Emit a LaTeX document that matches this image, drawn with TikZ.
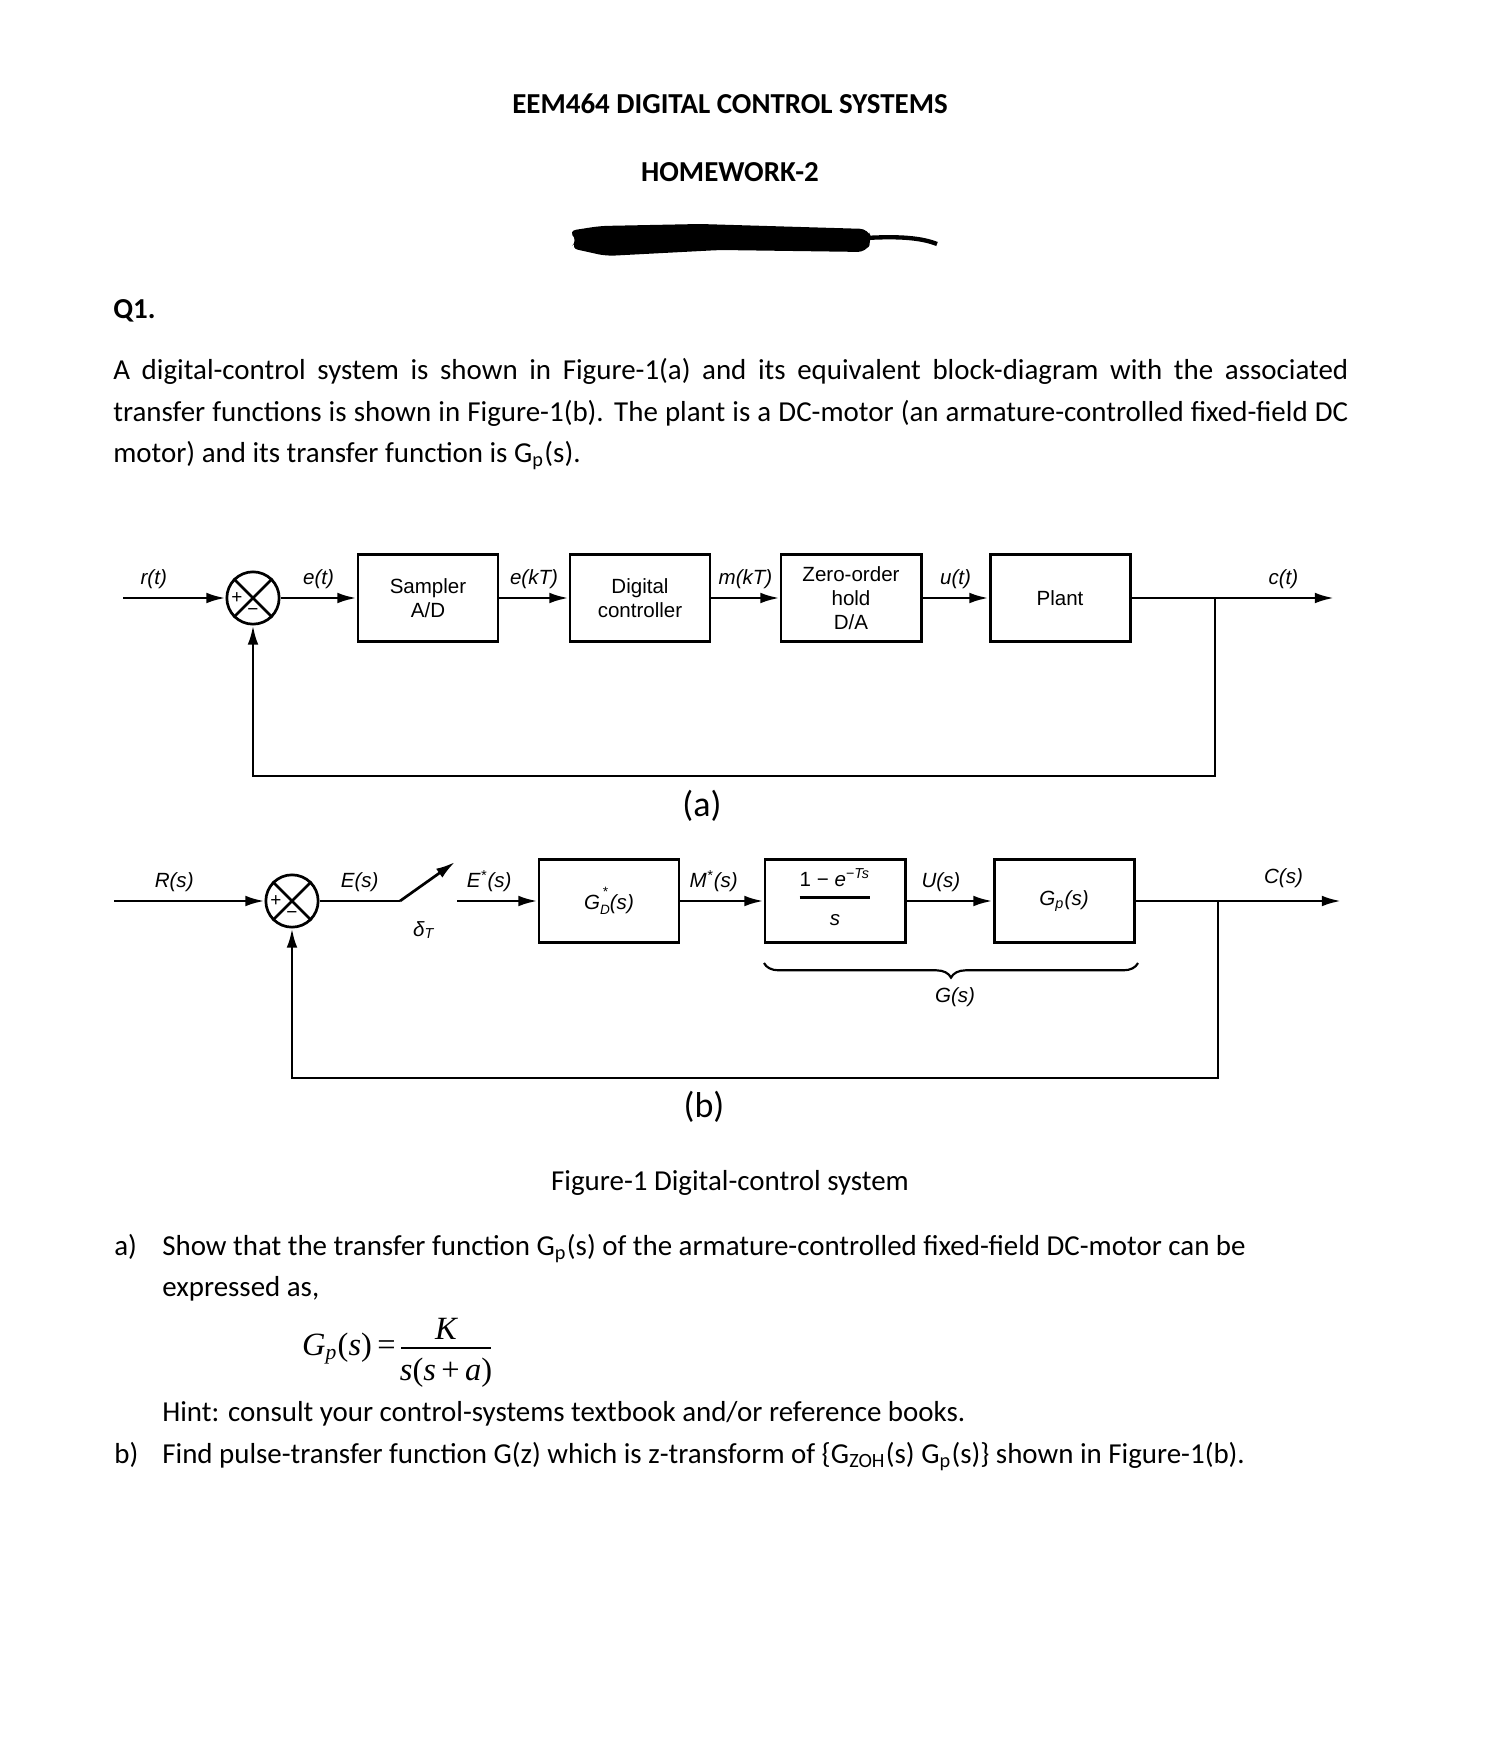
\documentclass[tikz,border=0pt]{standalone}
\usepackage{fontspec}
\setmainfont{Carlito}
\newfontfamily\diagfont{Liberation Sans}
\newfontfamily\eqfont{Liberation Serif}
\setlength{\arrayrulewidth}{0.9pt}
\usetikzlibrary{arrows.meta, calc, decorations.pathreplacing}

\begin{document}
\begin{tikzpicture}[x=0.013cm, y=-0.013cm, >={Latex[length=2.5mm, width=1.4mm]}, line width=1pt,
  every node/.style={inner sep=0pt},
  body/.style={font=\fontsize{10.7}{13}\selectfont, anchor=base west},
  head/.style={font=\fontsize{10.7}{13}\selectfont\bfseries, anchor=base},
  block/.style={draw, line width=1.1pt, align=center, minimum width=1.82cm, minimum height=1.12cm, font=\diagfont\fontsize{7.6}{8.8}\selectfont},
  sig/.style={font=\diagfont\itshape\fontsize{7.6}{8.8}\selectfont},
  sgn/.style={font=\diagfont\fontsize{7}{8}\selectfont},
  sumnode/.style={draw, circle, minimum size=6.8mm},
  eq/.style={font=\eqfont\fontsize{12}{14}\selectfont, anchor=base}]

  \useasboundingbox (0,0) rectangle (1494,1760);

  % heading
  \node[head] (title) at (730,114) {EEM464 DIGITAL CONTROL SYSTEMS};
  \node[head] (hw) at (730,182) {HOMEWORK-2};
  \fill[black, rounded corners=3] (568,231) -- (600,226) -- (700,224) -- (868,229) -- (872,240) -- (866,252) -- (720,250) -- (606,256) -- (570,248) -- (578,240) -- cycle;
  \draw[line width=1.6pt] (866,238) .. controls (900,236) and (922,238) .. (937,244);
  \node[head, anchor=base west] (q1) at (112,318) {Q1.};
  \node[body] (intro1) at (112,379) {\makebox[16.055cm][s]{A digital-control system is shown in Figure-1(a) and its equivalent block-diagram with the associated}};
  \node[body] (intro2) at (112,421) {\makebox[16.055cm][s]{transfer functions is shown in Figure-1(b). The plant is a DC-motor (an armature-controlled fixed-field DC}};
  \node[body] (intro3) at (112,462) {motor) and its transfer function is G\textsubscript{p}(s).};

  % figure (a)
  \coordinate (inA) at (123,598);
  \node[sumnode] (sumA) at (253,598) {};
  \draw (sumA.north west) -- (sumA.south east) (sumA.north east) -- (sumA.south west);
  \node[sgn] (plusA) at ($(sumA.center)+(-16,0)$) {+};
  \node[sgn] (minusA) at ($(sumA.center)+(0,14)$) {−};
  \node[block] (sampler) at (428,598) {Sampler\\A/D};
  \node[block] (dctrl) at (640,598) {Digital\\controller};
  \node[block] (zoh) at (851,598) {Zero-order\\hold\\D/A};
  \node[block] (plant) at (1060,598) {Plant};
  \coordinate (outA) at (1334,598);
  \coordinate (brA) at (1215,598);
  \coordinate (fbA) at (1215,776);
  \draw[->] (inA) -- (sumA) node[sig, pos=0.3, above=1mm] {r(t)};
  \draw[->] (sumA) -- (sampler) node[sig, midway, above=1mm] {e(t)};
  \draw[->] (sampler) -- (dctrl) node[sig, midway, above=1mm] {e(kT)};
  \draw[->] (dctrl) -- (zoh) node[sig, midway, above=1mm] {m(kT)};
  \draw[->] (zoh) -- (plant) node[sig, midway, above=1mm] {u(t)};
  \draw[->] (plant) -- (outA) node[sig, pos=0.75, above=1mm] {c(t)};
  \draw[->] (brA) -- (fbA) -| (sumA.south);
  \node[font=\fontsize{13.3}{15}\selectfont] (capA) at (702,806) {(a)};

  % figure (b)
  \coordinate (inB) at (114,901);
  \node[sumnode] (sumB) at (292,901) {};
  \draw (sumB.north west) -- (sumB.south east) (sumB.north east) -- (sumB.south west);
  \node[sgn] (plusB) at ($(sumB.center)+(-16,0)$) {+};
  \node[sgn] (minusB) at ($(sumB.center)+(0,14)$) {−};
  \coordinate (pivot) at (400,901);
  \coordinate (swtip) at (455,862);
  \coordinate (swout) at (457,901);
  \node[sig] (deltaT) at (424,930) {δ\textsubscript{T}};
  \node[block, minimum height=1.08cm, font=\diagfont\itshape\fontsize{7.6}{8.8}\selectfont] (gd) at (609,901)
    {G\raisebox{-0.45ex}{\fontsize{5}{5}\selectfont\shortstack{*\\D}}(s)};
  \node[block, minimum height=1.08cm, font=\diagfont\itshape\fontsize{7.6}{8.8}\selectfont] (zohb) at (835,901)
    {\begin{tabular}{@{}c@{}}\upshape 1 − \itshape e\textsuperscript{−Ts}\\[1pt]\hline\rule{0pt}{10pt}s\end{tabular}};
  \node[block, minimum height=1.08cm, font=\diagfont\itshape\fontsize{7.6}{8.8}\selectfont] (gp) at (1064,901) {G\textsubscript{p}(s)};
  \coordinate (outB) at (1341,901);
  \coordinate (brB) at (1218,901);
  \coordinate (fbB) at (1218,1078);
  \draw[->] (inB) -- (sumB) node[sig, pos=0.4, above=1mm] {R(s)};
  \draw (sumB) -- (pivot) node[sig, midway, above=1mm] {E(s)};
  \draw[->] (pivot) -- (swtip);
  \draw[->] (swout) -- (gd) node[sig, pos=0.4, above=1mm] {E\textsuperscript{*}(s)};
  \draw[->] (gd) -- (zohb) node[sig, pos=0.4, above=1mm] {M\textsuperscript{*}(s)};
  \draw[->] (zohb) -- (gp) node[sig, pos=0.4, above=1mm] {U(s)};
  \draw[->] (gp) -- (outB) node[sig, pos=0.72, above=1.6mm] {C(s)};
  \draw[->] (brB) -- (fbB) -| (sumB.south);
  \coordinate (braceL) at (764,963);
  \coordinate (braceR) at (1138,963);
  \draw[decorate, decoration={brace, mirror, amplitude=1.9mm}, line width=0.8pt] (braceL) -- (braceR);
  \node[sig] (gs) at (955,997) {G(s)};
  \node[font=\fontsize{13.3}{15}\selectfont] (capB) at (704,1107) {(b)};

  % questions
  \node[body, anchor=base] (figcap) at (730,1190) {Figure-1 Digital-control system};
  \node[body] (itemA) at (113,1255) {a)};
  \node[body] (itemAtext) at (161,1255) {Show that the transfer function G\textsubscript{p}(s) of the armature-controlled fixed-field DC-motor can be};
  \node[body] (itemAtext2) at (161,1296) {expressed as,};
  \node[eq, anchor=base east] (gpeq) at (397,1355) {{\itshape G}\textsubscript{\itshape p}({\itshape s})\,=};
  \node[eq] (numK) at (446,1339) {\itshape K};
  \node[eq] (den) at (446,1380) {{\itshape s}({\itshape s}\,+\,{\itshape a})};
  \coordinate (barL) at (401,1348);
  \coordinate (barR) at (491,1348);
  \draw[line width=0.6pt] (barL) -- (barR);
  \node[body] (hint) at (161,1421) {Hint: consult your control-systems textbook and/or reference books.};
  \node[body] (itemB) at (113,1463) {b)};
  \node[body] (itemBtext) at (161,1463) {Find pulse-transfer function G(z) which is z-transform of \{G\textsubscript{ZOH}(s) G\textsubscript{p}(s)\} shown in Figure-1(b).};
\end{tikzpicture}
\end{document}
